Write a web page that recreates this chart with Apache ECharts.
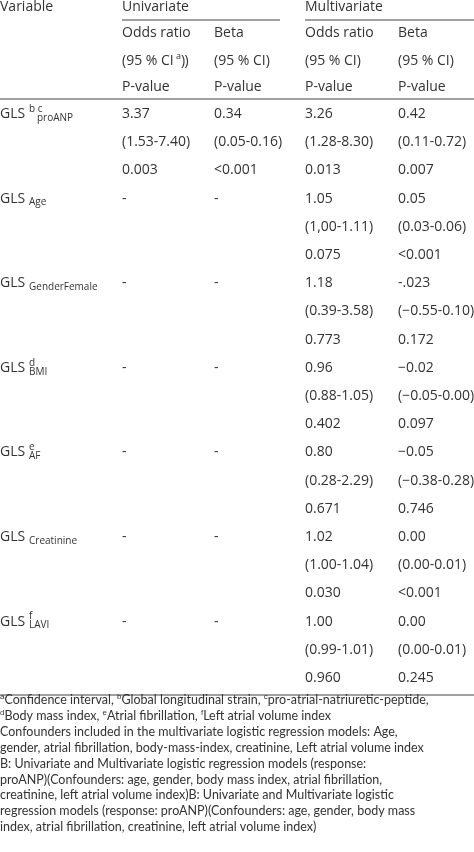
<!DOCTYPE html>
<html>
<head>
<meta charset="UTF-8">
<script src="https://cdn.jsdelivr.net/npm/echarts@6/dist/echarts.min.js"></script>
<style>
    html, body { margin: 0; padding: 0; background: #fff; }
    #table_chart { width: 474px; height: 852px; }
</style>
</head>
<body>
<div id="table_chart"></div>
<script type="text/javascript">
    // row labels: [main, superscript, subscript]
    const variables = [
        ['GLS', 'b c', 'proANP'],
        ['GLS', '', 'Age'],
        ['GLS', '', 'GenderFemale'],
        ['GLS', 'd', 'BMI'],
        ['GLS', 'e', 'AF'],
        ['GLS', '', 'Creatinine'],
        ['GLS', 'f', 'LAVI']
    ];
    const headers = [['Odds ratio', '(95 % CI   )'], ['Beta', '(95 % CI)'], ['Odds ratio', '(95 % CI)'], ['Beta', '(95 % CI)']];
    const uniOdds = [['3.37', '(1.53-7.40)', '0.003'], ['-'], ['-'], ['-'], ['-'], ['-'], ['-']];
    const uniBeta = [['0.34', '(0.05-0.16)', '<0.001'], ['-'], ['-'], ['-'], ['-'], ['-'], ['-']];
    const multiOdds = [
        ['3.26', '(1.28-8.30)', '0.013'],
        ['1.05', '(1,00-1.11)', '0.075'],
        ['1.18', '(0.39-3.58)', '0.773'],
        ['0.96', '(0.88-1.05)', '0.402'],
        ['0.80', '(0.28-2.29)', '0.671'],
        ['1.02', '(1.00-1.04)', '0.030'],
        ['1.00', '(0.99-1.01)', '0.960']
    ];
    const multiBeta = [
        ['0.42', '(0.11-0.72)', '0.007'],
        ['0.05', '(0.03-0.06)', '<0.001'],
        ['-.023', '(\u22120.55-0.10)', '0.172'],
        ['\u22120.02', '(\u22120.05-0.00)', '0.097'],
        ['\u22120.05', '(\u22120.38-0.28)', '0.746'],
        ['0.00', '(0.00-0.01)', '<0.001'],
        ['0.00', '(0.00-0.01)', '0.245']
    ];
    const footnotes = [
        '{s|a}Confidence interval, {s|b}Global longitudinal strain, {s|c}pro-atrial-natriuretic-peptide,',
        '{s|d}Body mass index, {s|e}Atrial fibrillation, {s|f}Left atrial volume index',
        'Confounders included in the multivariate logistic regression models: Age,',
        'gender, atrial fibrillation, body-mass-index, creatinine, Left atrial volume index',
        'B: Univariate and Multivariate logistic regression models (response:',
        'proANP)(Confounders: age, gender, body mass index, atrial fibrillation,',
        'creatinine, left atrial volume index)B: Univariate and Multivariate logistic',
        'regression models (response: proANP)(Confounders: age, gender, body mass',
        'index, atrial fibrillation, creatinine, left atrial volume index)'
    ];

    const chart = echarts.init(document.getElementById('table_chart'));
    const font = '"Open Sans", sans-serif';
    const color = '#333';
    const colX = [122, 214, 305, 398];
    const elements = [];

    function text(x, y, str, size) {
        elements.push({
            type: 'text', x: x, y: y,
            style: { text: str, fill: color, font: (size || 14) + 'px ' + font, textVerticalAlign: 'middle' }
        });
    }
    function line(x1, x2, y) {
        elements.push({
            type: 'line', shape: { x1: x1, y1: y, x2: x2, y2: y },
            style: { stroke: '#444', lineWidth: 1 }
        });
    }

    // header
    text(0, 7, 'Variable');
    text(colX[0], 7, 'Univariate');
    text(colX[2], 7, 'Multivariate');
    line(colX[0], 280, 20);
    line(colX[2], 474, 20);
    headers.forEach(function (h, i) {
        text(colX[i], 33, h[0]);
        text(colX[i], 61, h[1]);
        text(colX[i], 87, 'P-value');
    });
    text(colX[0] + 54, 56, 'a', 9);
    text(colX[0] + 59, 61, ')');
    line(0, 474, 99);

    const rowStep = 28.2;
    const firstRow = 114;
    variables.forEach(function (v, i) {
        const y = firstRow + i * 3 * rowStep;
        text(0, y, v[0]);
        if (v[1]) text(29, y - 5, v[1], 10);
        text(v[1] === 'b c' ? 37 : 29, y + 4, v[2], 10);
        [uniOdds, uniBeta, multiOdds, multiBeta].forEach(function (col, c) {
            col[i].forEach(function (val, k) {
                text(colX[c], y + k * rowStep, val);
            });
        });
    });
    line(0, 474, 695);

    footnotes.forEach(function (f, i) {
        elements.push({
            type: 'text', x: 0, y: 700 + i * 15.9,
            style: {
                text: f, fill: color, font: '12.5px Lato, sans-serif', textVerticalAlign: 'middle',
                rich: { s: { fontSize: 8, verticalAlign: 'top', padding: [0, 0, 6, 0] } }
            }
        });
    });

    chart.setOption({ animation: false, graphic: { elements: elements } });
</script>
</body>
</html>
